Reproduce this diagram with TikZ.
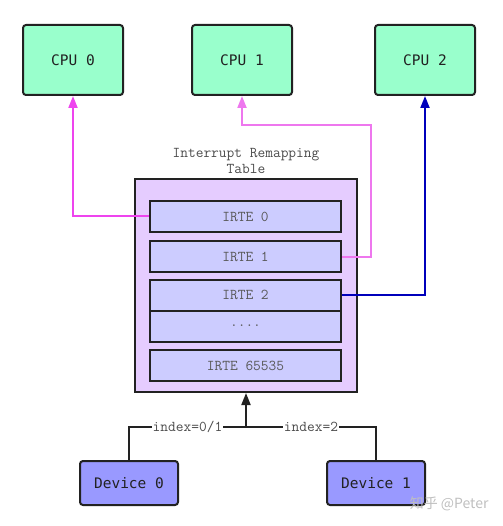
\documentclass[tikz,border=0pt]{standalone}
\usepackage{fontspec}
\newfontfamily\boxfont{DejaVu Sans Mono}
\newfontfamily\cjkfont{Noto Sans CJK SC}
\usetikzlibrary{arrows.meta}

\definecolor{cpugreen}{HTML}{99FFCC}
\definecolor{tablepurple}{HTML}{E5CCFF}
\definecolor{irteblue}{HTML}{CCCCFF}
\definecolor{devblue}{HTML}{9999FF}
\definecolor{edgedark}{HTML}{222222}
\definecolor{pinkA}{HTML}{EE44EE}
\definecolor{pinkB}{HTML}{EE77EE}
\definecolor{darkblue}{HTML}{0000BB}

\tikzset{
	cpubox/.style={draw=edgedark, line width=2pt, rounded corners=3pt, fill=cpugreen, minimum width=100pt, minimum height=70pt, font=\boxfont\fontsize{14.5}{16}\selectfont, text=edgedark},
	devbox/.style={draw=edgedark, line width=2pt, rounded corners=3pt, fill=devblue, minimum width=98pt, minimum height=44pt, font=\boxfont\fontsize{14.5}{16}\selectfont, text=edgedark},
	irte/.style={draw=edgedark, line width=2pt, fill=irteblue, minimum width=191pt, minimum height=31pt, font=\ttfamily\fontsize{15}{17}\selectfont, text=black!65},
	link/.style={line width=2pt, -{Triangle[length=12pt,width=9pt]}},
	idx/.style={fill=white, inner sep=1pt, font=\ttfamily\fontsize{15}{17}\selectfont, text=black!70}
}

\begin{document}
\begin{tikzpicture}[x=1pt, y=-1pt]
	\useasboundingbox (0,0) rectangle (502,526);

	% cpus
	\node[cpubox] (cpu0) at (73,60) {CPU 0};
	\node[cpubox] (cpu1) at (242,60) {CPU 1};
	\node[cpubox] (cpu2) at (425,60) {CPU 2};

	% remapping table
	\node[align=center, font=\ttfamily\fontsize{15}{16}\selectfont, text=black!70] (title) at (246,161) {Interrupt Remapping\\Table};
	\node[draw=edgedark, line width=2pt, fill=tablepurple, minimum width=222pt, minimum height=213pt] (irt) at (246,285.5) {};
	\node[irte] (irte0) at (245.5,216.5) {IRTE 0};
	\node[irte] (irte1) at (245.5,256.5) {IRTE 1};
	\node[irte] (irte2) at (245.5,295) {IRTE 2};
	\node[irte] (dots) at (245.5,326) {....};
	\node[irte] (irteN) at (245.5,365.5) {IRTE 65535};

	\draw[link, pinkA] (irte0.west) -| (cpu0.south);
	\coordinate (bend1) at (371,125);
	\draw[link, pinkB] (irte1.east) -| (bend1) -| (cpu1.south);
	\draw[link, darkblue] (irte2.east) -| (cpu2.south);

	% devices
	\node[devbox] (dev0) at (129,483) {Device 0};
	\node[devbox] (dev1) at (376,483) {Device 1};

	\coordinate (join) at (246,427);
	\draw[line width=2pt, edgedark] (dev0.north) |- (join) node[idx, pos=0.75] {index=0/1};
	\draw[line width=2pt, edgedark] (dev1.north) |- (join) node[idx, pos=0.75] {index=2};
	\draw[link, edgedark] (join) -- (irt.south);

	\node[font=\cjkfont\fontsize{14}{16}\selectfont, text=black!25, anchor=east] (mark) at (492,504) {知乎 @Peter};

\end{tikzpicture}
\end{document}
